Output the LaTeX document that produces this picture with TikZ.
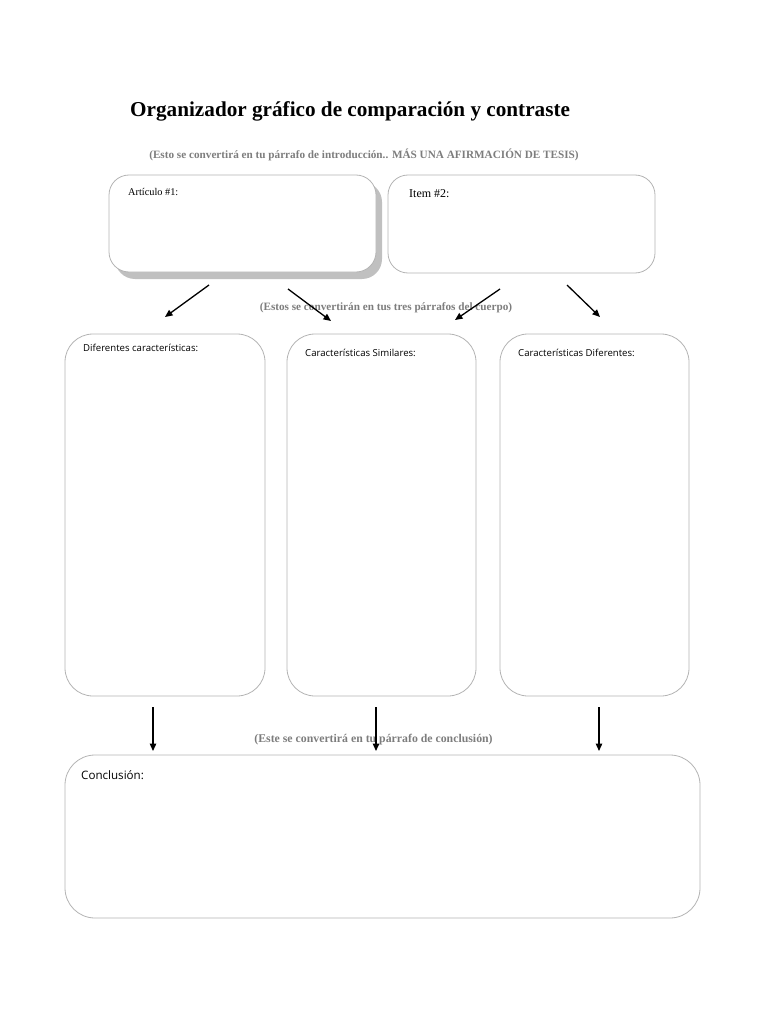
\documentclass[tikz,border=0pt]{standalone}
\usepackage{fontspec}
\setmainfont{Liberation Serif}
\newfontfamily\boxfont{Open Sans}
\usetikzlibrary{arrows.meta, positioning, shadows}
\definecolor{notecolor} {RGB}{125, 125, 125}
\definecolor{edgecolor} {RGB}{180, 180, 180}
\definecolor{shadecolor}{RGB}{192, 192, 192}
\tikzset{
	bigbox/.style={
		rectangle, rounded corners=20pt,
		inner sep=0pt, fill=white,
		draw=edgecolor, line width=0.8pt
	},
	colbox/.style={
		bigbox, rounded corners=28pt,
		minimum width=189pt, minimum height=362pt
	},
	boxtext/.style={
		anchor=base west, inner sep=0pt,
		font=\boxfont\fontsize{9.6}{11}\selectfont
	},
	notetext/.style={
		anchor=base, inner sep=0pt, text=notecolor,
		font=\bfseries\fontsize{11.2}{13}\selectfont
	},
	arrow/.style={
		-{Triangle[length=7.5pt, width=6.5pt]}, line width=1.3pt, color=black
	}
}
\begin{document}
\begin{tikzpicture}[x=1pt, y=-1pt]
		\useasboundingbox (0,0) rectangle (768,1024);
		
		%% ═══════════════════════════════
		%%  TITLE
		%% ═══════════════════════════════
		\node[anchor=base west, inner sep=0pt,
		font=\bfseries\fontsize{21.2}{25}\selectfont] (title) at (130,117)
		{Organizador gráfico de comparación y contraste};
		
		\node[notetext] (intro) at (364,159)
		{(Esto se convertirá en tu párrafo de introducción.. MÁS UNA AFIRMACIÓN DE TESIS)};
		
		%% ═══════════════════════════════
		%%  ROW 1 — two items
		%% ═══════════════════════════════
		\node[bigbox, minimum width=267pt, minimum height=97pt,
		drop shadow={shadow xshift=6pt, shadow yshift=-7pt,
			fill=shadecolor, opacity=1}] (item1) at (242.5,223.5) {};
		\node[bigbox, minimum width=267pt, minimum height=98pt] (item2) at (521.5,224) {};
		
		\node[boxtext, font=\fontsize{10.3}{12}\selectfont] (item1txt) at (128,196) {Artículo \#1:};
		\node[boxtext, font=\fontsize{12}{14}\selectfont]   (item2txt) at (409,198) {Item \#2:};
		
		\node[notetext] (body) at (386,310)
		{(Estos se convertirán en tus tres párrafos del cuerpo)};
		
		%% ═══════════════════════════════
		%%  ROW 2 — three columns
		%% ═══════════════════════════════
		\node[colbox, minimum width=200pt] (diff1) at (165,515) {};
		\node[colbox] (simil) at (381.5,515) {};
		\node[colbox] (diff2) at (594.5,515) {};
		
		\node[boxtext] (diff1txt) at (83,351)  {Diferentes características:};
		\node[boxtext] (simtxt)   at (305,356) {Características Similares:};
		\node[boxtext] (diff2txt) at (518,356) {Características Diferentes:};
		
		\node[notetext, font=\bfseries\fontsize{11.8}{14}\selectfont] (concl) at (373.5,742)
		{(Este se convertirá en tu párrafo de conclusión)};
		
		%% ═══════════════════════════════
		%%  ROW 3 — conclusion
		%% ═══════════════════════════════
		\node[bigbox, rounded corners=30pt,
		minimum width=635pt, minimum height=163pt] (final) at (382.5,836.5) {};
		\node[boxtext, font=\boxfont\fontsize{11.6}{13}\selectfont] (finaltxt) at (81,779) {Conclusión:};
		
		%% ═══════════════════════════════
		%%  ARROWS
		%% ═══════════════════════════════
		\coordinate (a1) at (209,285); \coordinate (b1) at (165,317);
		\coordinate (a2) at (288,289); \coordinate (b2) at (331,321);
		\coordinate (a3) at (500,289); \coordinate (b3) at (455,320);
		\coordinate (a4) at (567,285); \coordinate (b4) at (600,317);
		
		% items → columns
		\draw[arrow] (a1) -- (b1);
		\draw[arrow] (a2) -- (b2);
		\draw[arrow] (a3) -- (b3);
		\draw[arrow] (a4) -- (b4);
		
		% columns → conclusion
		\coordinate (c1) at (153,707); \coordinate (d1) at (153,751);
		\coordinate (c2) at (376,707); \coordinate (d2) at (376,751);
		\coordinate (c3) at (599,707); \coordinate (d3) at (599,751);
		\draw[arrow] (c1) -- (d1);
		\draw[arrow] (c2) -- (d2);
		\draw[arrow] (c3) -- (d3);
	\end{tikzpicture}
\end{document}
